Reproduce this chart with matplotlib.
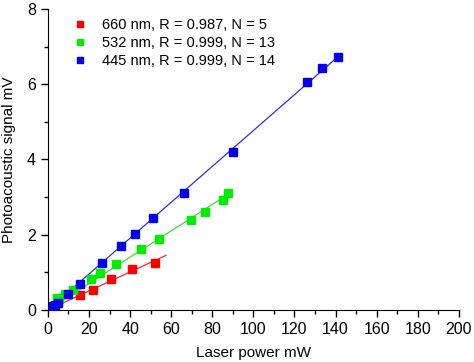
import matplotlib.pyplot as plt
import numpy as np

plt.rcParams['font.family'] = ['Liberation Sans', 'DejaVu Sans']

red_x = [15.6, 22.1, 30.8, 40.7, 52.2]
red_y = [0.40, 0.53, 0.82, 1.09, 1.25]
green_x = [4.2, 5.5, 8.3, 12.0, 20.8, 25.6, 33.3, 45.1, 53.9, 69.7, 76.4, 85.2, 87.8]
green_y = [0.31, 0.28, 0.42, 0.54, 0.82, 0.99, 1.23, 1.62, 1.88, 2.40, 2.59, 2.91, 3.12]
blue_x = [2.5, 3.4, 5.0, 9.9, 15.6, 26.5, 35.8, 42.2, 51.4, 66.2, 90.2, 126.2, 133.2, 141.1]
blue_y = [0.10, 0.13, 0.18, 0.43, 0.69, 1.24, 1.70, 2.01, 2.44, 3.12, 4.20, 6.07, 6.42, 6.72]
labels = ['660 nm, R = 0.987, N = 5',
          '532 nm, R = 0.999, N = 13',
          '445 nm, R = 0.999, N = 14']
fit_end = [57.5, 89.0, 141.1]
colors = ['#ff0000', '#00ee00', '#0000ee']
line_colors = ['#e83030', '#40d840', '#3030d0']

fig = plt.figure(figsize=(4.74, 3.62), dpi=100)
ax = fig.add_axes([0.101, 0.144, 0.867, 0.831])

series = [(red_x, red_y), (green_x, green_y), (blue_x, blue_y)]
for (xs, ys), lab, xe, c, lc in zip(series, labels, fit_end, colors, line_colors):
    # fitted line through origin
    k = np.sum(np.array(xs) * np.array(ys)) / np.sum(np.array(xs) ** 2)
    fx = np.array([0, xe])
    ax.plot(fx, k * fx, color=lc, lw=0.9, zorder=2)
    ax.plot(xs, ys, 's', color=c, ms=5.5, label=lab, zorder=3)

ax.set_xlim(0, 200)
ax.set_ylim(0, 8)
ax.set_xticks(np.arange(0, 201, 20))
ax.set_xticks(np.arange(0, 201, 10), minor=True)
ax.set_yticks(np.arange(0, 9, 2))
ax.set_yticks(np.arange(0, 9, 1), minor=True)
ax.tick_params(which='major', direction='out', length=5, labelsize=11.5, width=1)
ax.tick_params(which='minor', direction='out', length=3, width=1)
ax.spines['top'].set_visible(False)
ax.spines['right'].set_visible(False)
ax.set_xlabel('Laser power mW', fontsize=11, labelpad=7)
ax.set_ylabel('Photoacoustic signal mV', fontsize=11, labelpad=8)

ax.legend(loc='upper left', bbox_to_anchor=(0.028, 1.015), frameon=False,
          fontsize=10.5, handlelength=1.0, handletextpad=1.0, labelspacing=0.3,
          markerscale=0.8)

fig.savefig('out.png', dpi=100)
